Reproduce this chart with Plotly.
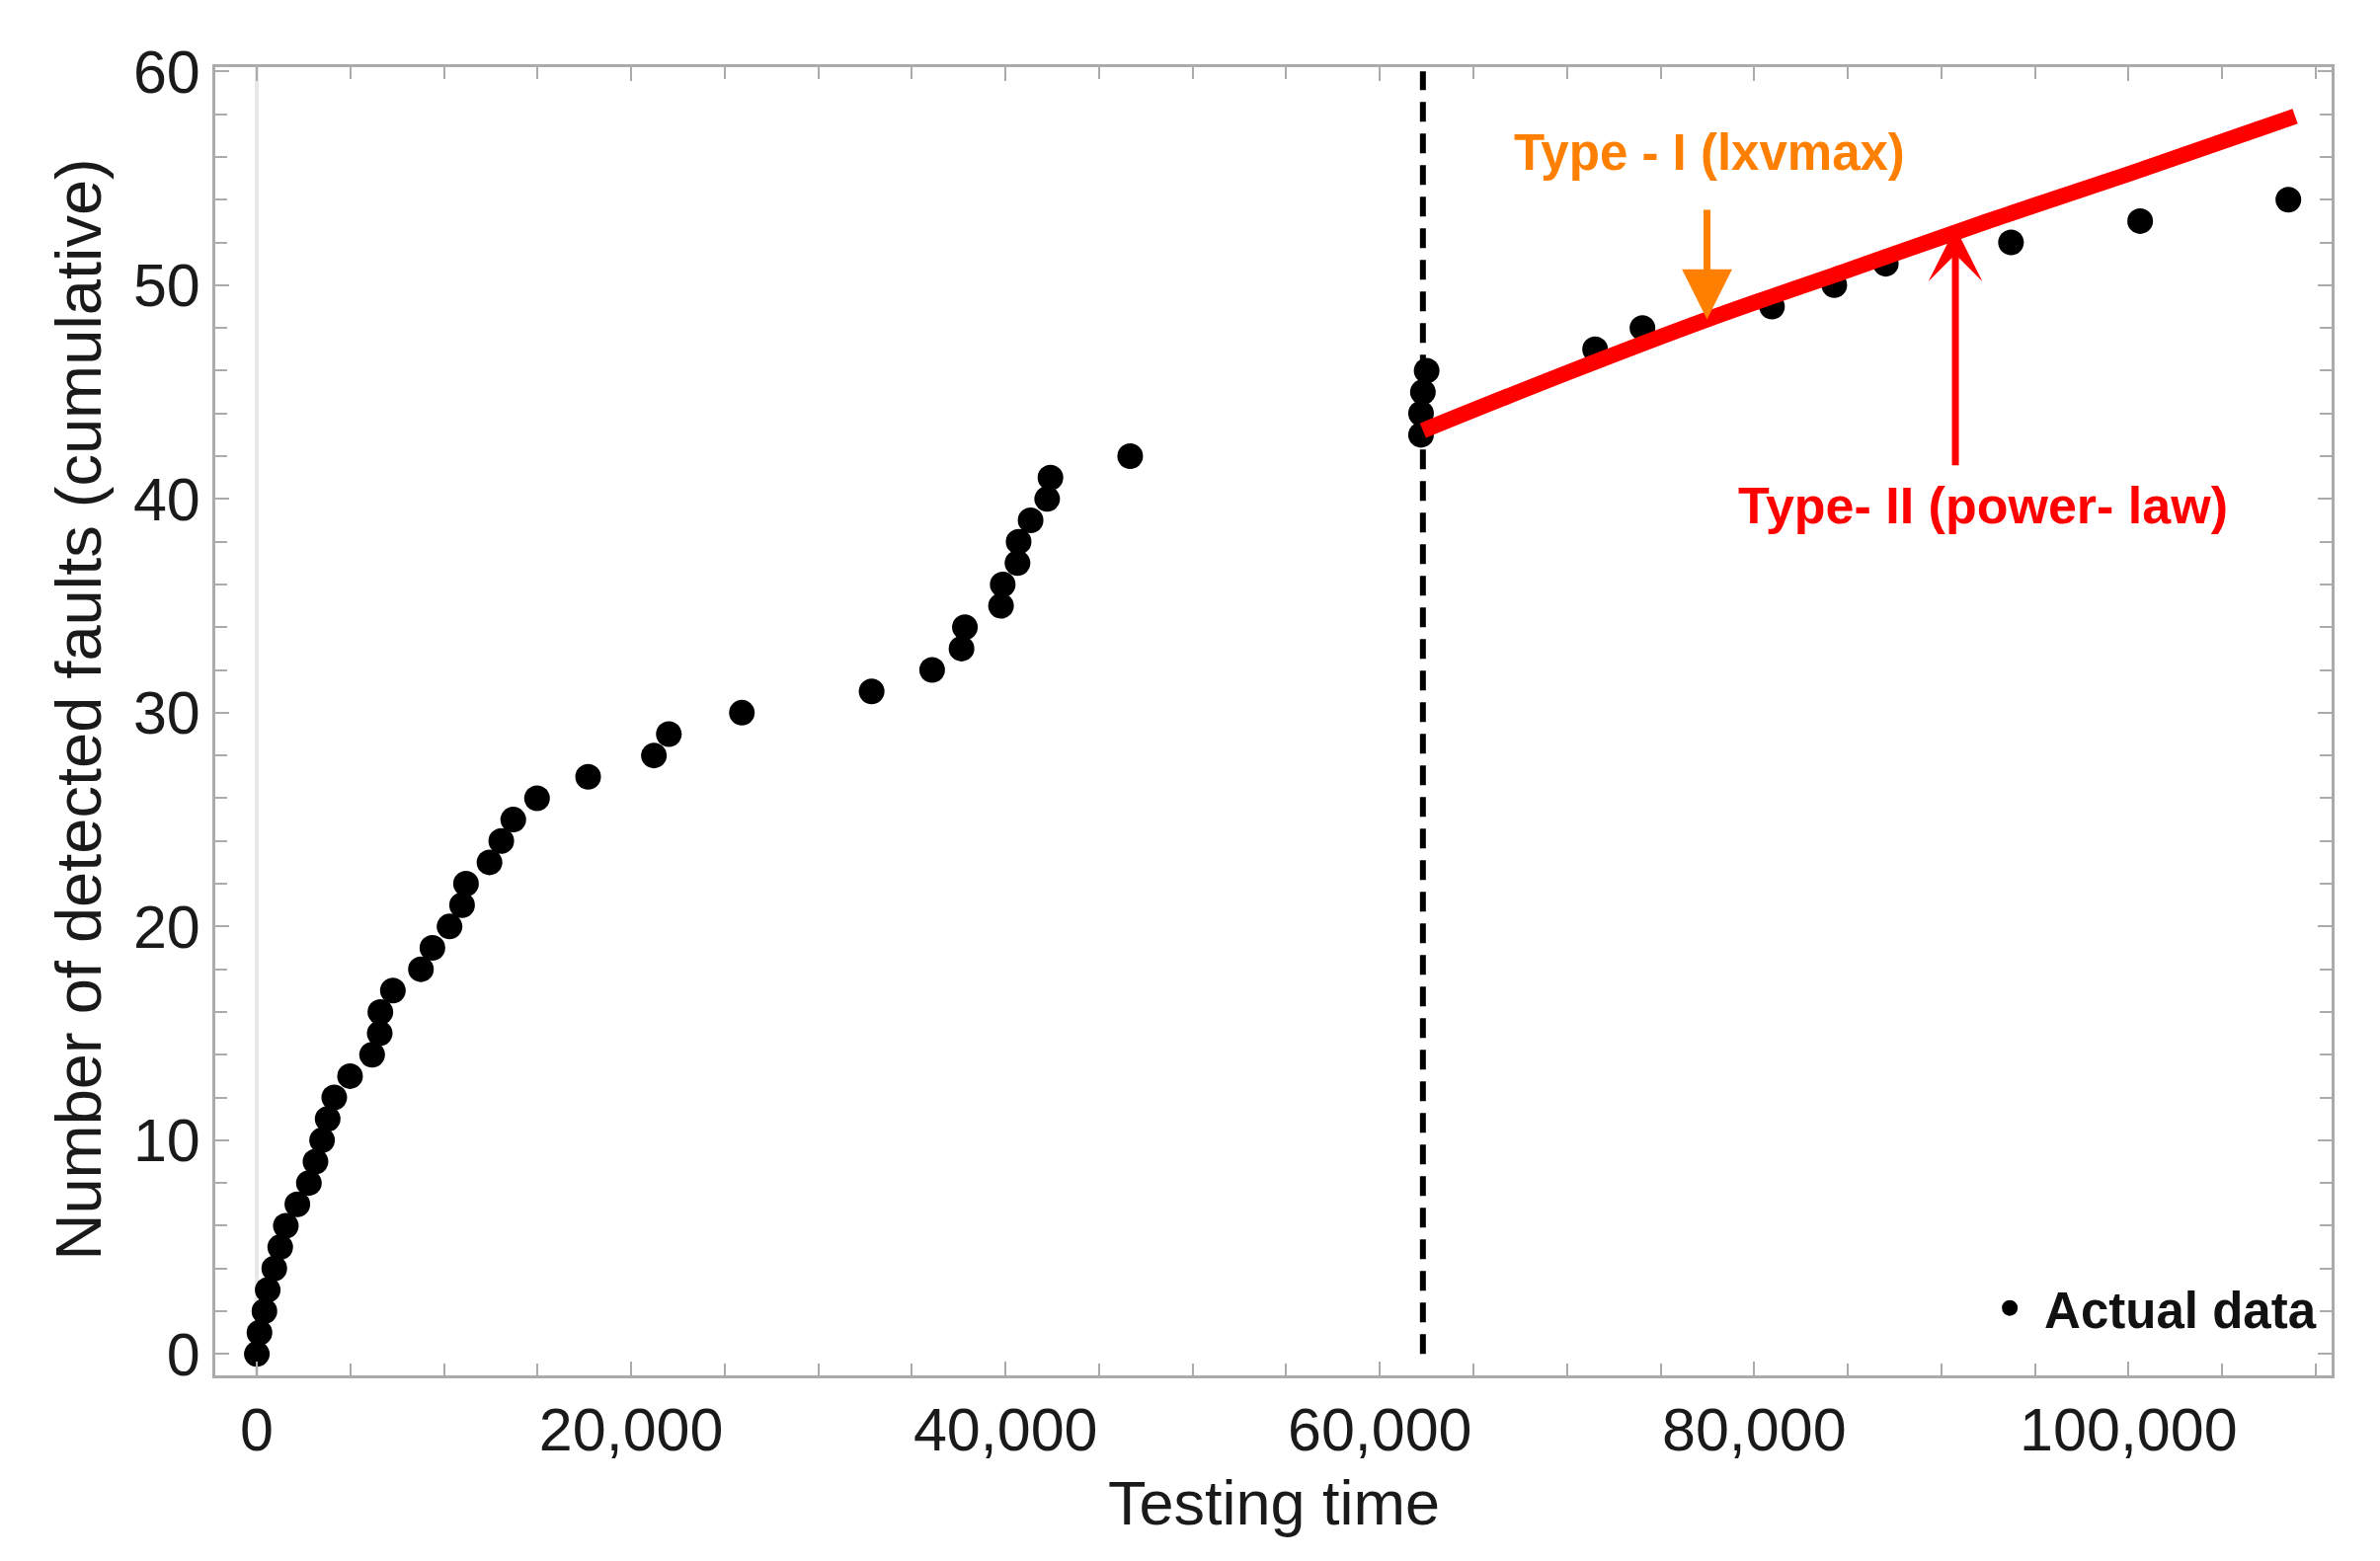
import plotly.graph_objects as go

# ---------------- data ----------------
test_time = [0, 141, 405, 581, 932, 1249, 1549, 2164, 2781, 3133,
             3485, 3784, 4136, 4980, 6160, 6565, 6600, 7269, 8766, 9381,
             10296, 10965, 11176, 12430, 13060, 13700, 14970, 17700, 21215, 22012,
             25914, 32847, 36080, 37650, 37830, 39760, 39850, 40640, 40700, 41340,
             42225, 42400, 46660, 62200, 62200, 62300, 62500, 71500, 74030, 80950,
             84280, 87030, 93720, 100620, 108540]
faults = list(range(0, 55))

fit_time = [62300, 70000, 77500, 85000, 92500, 100000, 108900]
fit_faults = [43.2, 45.9, 48.4, 50.7, 53.0, 55.2, 57.9]

split_time = 62300
split_span = [0, 60]

x_tickvals = [0, 20000, 40000, 60000, 80000, 100000]
y_tickvals = [0, 10, 20, 30, 40, 50, 60]

label_type1 = "Type - I (lxvmax)"
label_type2 = "Type- II (power- law)"
arrow1_tip = (77480, 48.4)
arrow1_tail = (77480, 53.6)
arrow2_tip = (90750, 52.7)
arrow2_tail = (90750, 41.5)

FONT = "Liberation Sans, Arial, sans-serif"
ORANGE = "#FF8000"
RED = "#FF0000"
FRAME = "#ababab"

fig = go.Figure()

fig.add_trace(go.Scatter(
    x=test_time, y=faults, mode="markers", name="Actual data",
    marker=dict(color="black", size=26),
))

fig.add_trace(go.Scatter(
    x=[split_time, split_time], y=split_span, mode="lines",
    line=dict(color="black", width=6, dash="20px,12px"),
    showlegend=False, hoverinfo="skip",
))

fig.add_trace(go.Scatter(
    x=fit_time, y=fit_faults, mode="lines",
    line=dict(color=RED, width=16, shape="spline"),
    showlegend=False,
))

axis_common = dict(
    showline=True, linecolor=FRAME, linewidth=3, mirror="ticks",
    ticks="inside", ticklen=14, tickwidth=2, tickcolor=FRAME,
    showgrid=False,
    tickfont=dict(family=FONT, size=61, color="#1a1a1a"),
)

fig.update_xaxes(
    range=[-2220, 110850], tickvals=x_tickvals, tickformat=",d",
    zeroline=True, zerolinecolor="#e8e8e8", zerolinewidth=4,
    minor=dict(dtick=5000, tick0=0, ticks="inside", ticklen=12, tickwidth=2, tickcolor=FRAME),
    **axis_common,
)
fig.update_yaxes(
    range=[-1.0, 60.2], tickvals=y_tickvals, zeroline=False,
    minor=dict(dtick=2, tick0=0, ticks="inside", ticklen=12, tickwidth=2, tickcolor=FRAME),
    **axis_common,
)

annotations = [
    dict(text="Testing time", xref="paper", yref="paper", x=0.5, y=-0.0974,
         xanchor="center", yanchor="middle", showarrow=False,
         font=dict(family=FONT, size=63, color="#1a1a1a")),
    dict(text="Number of detected faults (cumulative)", xref="paper", yref="paper",
         x=-0.0644, y=0.509, xanchor="center", yanchor="middle", textangle=-90,
         showarrow=False, font=dict(family=FONT, size=65, color="#1a1a1a")),
    dict(text="<b>" + label_type1 + "</b>", xref="x", yref="y", x=77600, y=56.2,
         xanchor="center", yanchor="middle", showarrow=False,
         font=dict(family=FONT, size=51, color=ORANGE)),
    dict(text="<b>" + label_type2 + "</b>", xref="x", yref="y", x=92250, y=39.7,
         xanchor="center", yanchor="middle", showarrow=False,
         font=dict(family=FONT, size=52, color=RED)),
    dict(text="", xref="x", yref="y", x=arrow1_tip[0], y=arrow1_tip[1],
         axref="x", ayref="y", ax=arrow1_tail[0], ay=arrow1_tail[1],
         showarrow=True, arrowhead=2, arrowwidth=7, arrowsize=1.45, arrowcolor=ORANGE,
         standoff=0),
    dict(text="", xref="x", yref="y", x=arrow2_tip[0], y=arrow2_tip[1],
         axref="x", ayref="y", ax=arrow2_tail[0], ay=arrow2_tail[1],
         showarrow=True, arrowhead=3, arrowwidth=7, arrowsize=1.3, arrowcolor=RED,
         standoff=0),
]

# page body has an 8px default margin: compensate so the plot area sits at
# left 218, top 68, right 2361, bottom 1393 in the 2410x1581 window
fig.update_layout(
    width=2402, height=1573, autosize=False,
    margin=dict(l=210, r=49, t=60, b=188),
    paper_bgcolor="white", plot_bgcolor="white",
    showlegend=True,
    legend=dict(x=0.8316, y=0.0513, xanchor="left", yanchor="middle",
                itemwidth=60,
                bgcolor="rgba(0,0,0,0)", borderwidth=0,
                font=dict(family=FONT, size=51, color="#111111", weight="bold")),
    annotations=annotations,
)

fig.write_html("out.html")
